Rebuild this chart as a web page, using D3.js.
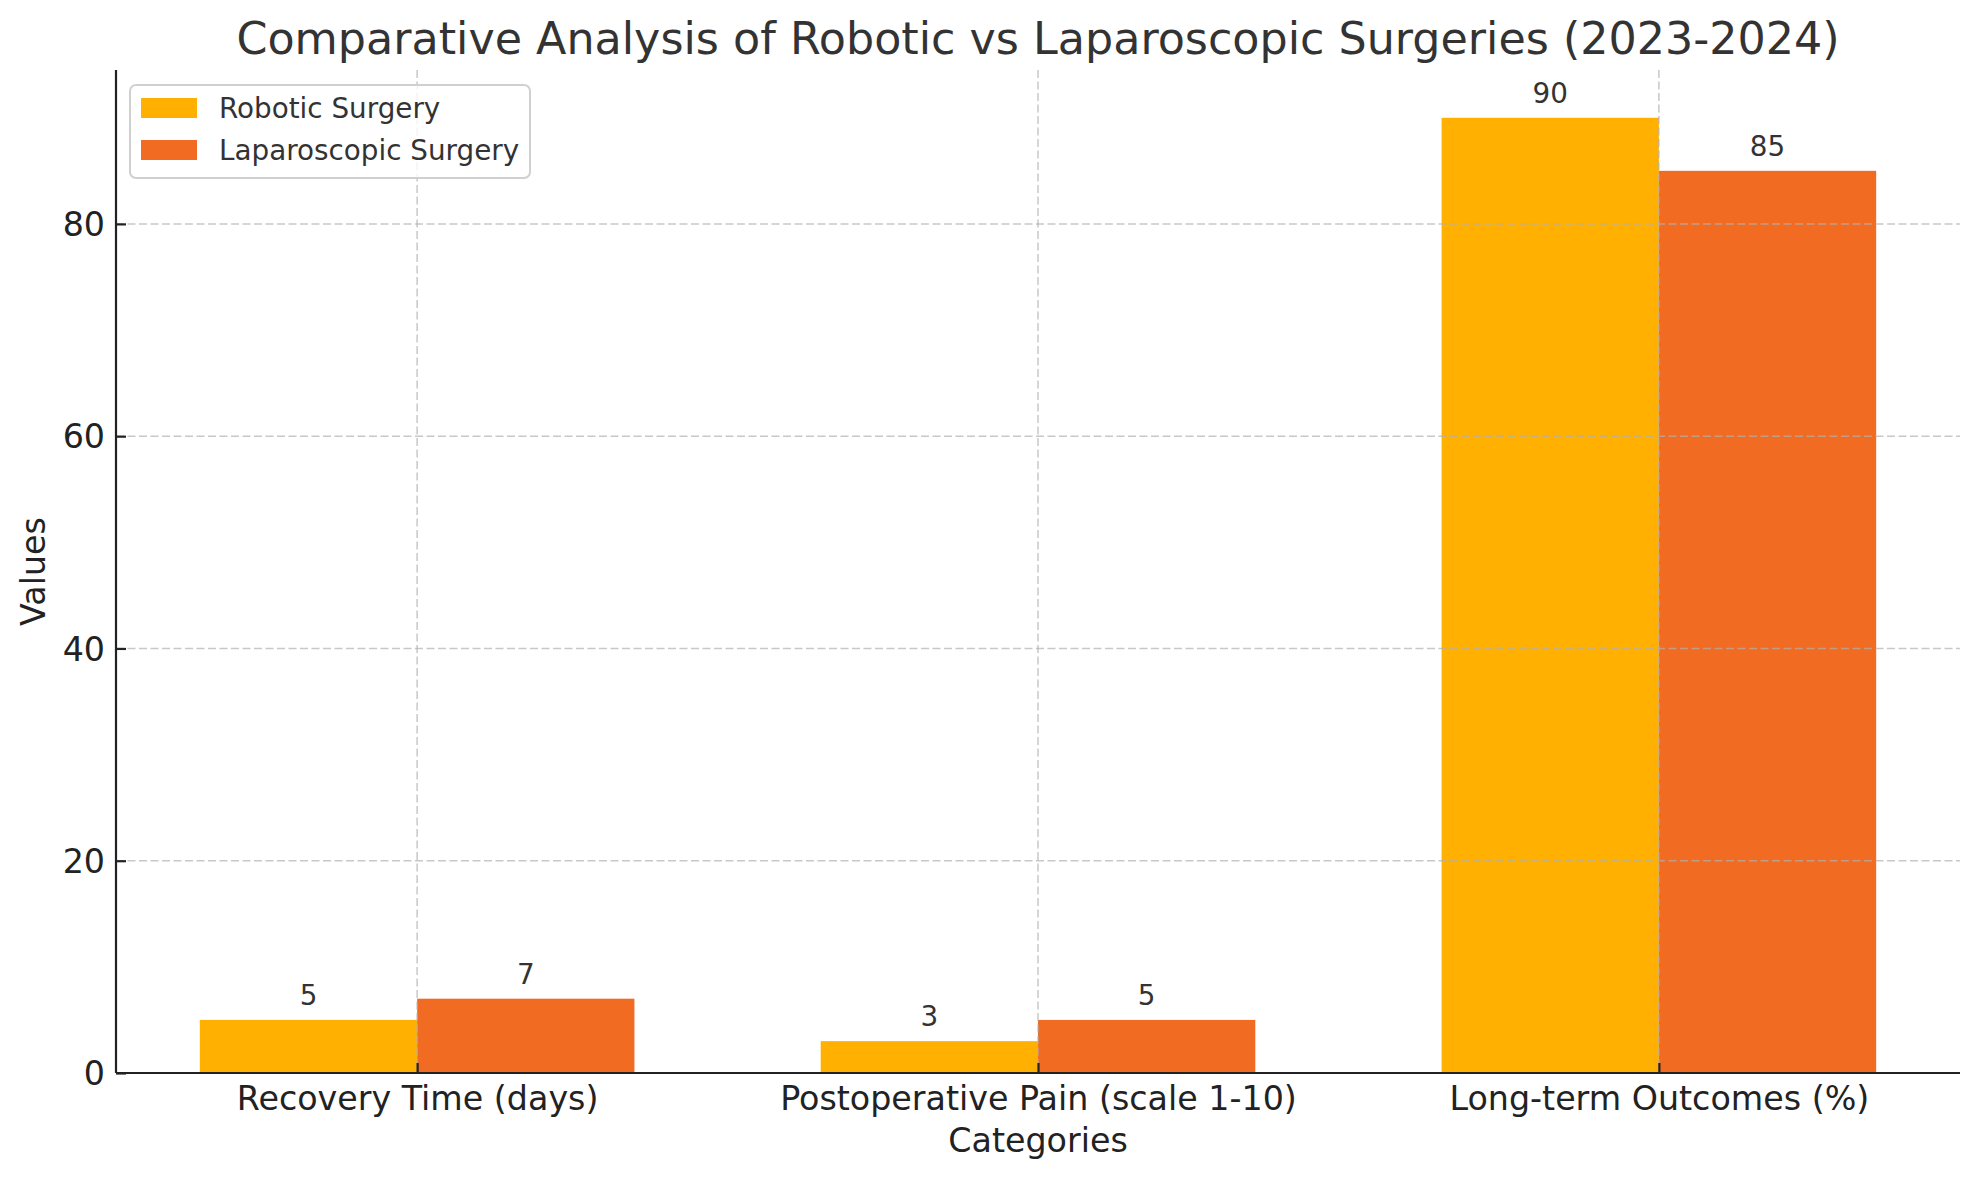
<!DOCTYPE html>
<html>
<head>
<meta charset="utf-8">
<script src="https://cdn.jsdelivr.net/npm/d3@7"></script>
<style>
  html, body { margin: 0; padding: 0; background: #fff; }
  svg { display: block; font-family: "DejaVu Sans", sans-serif; }
</style>
</head>
<body>
<div id="container"></div>
<script>
// data
const categories = ['Recovery Time (days)', 'Postoperative Pain (scale 1-10)', 'Long-term Outcomes (%)'];
const seriesNames = ['Robotic Surgery', 'Laparoscopic Surgery'];
const roboticValues = [5, 3, 90];
const laparoscopicValues = [7, 5, 85];
const yTicks = [0, 20, 40, 60, 80];
const colors = ['#FFB000', '#F26B22'];

const width = 1979;
const height = 1180;
const margin = { top: 70, right: 19, bottom: 107, left: 116 };
const barWidth = 0.35;

const svg = d3.select('#container')
    .append('svg')
    .attr('width', width)
    .attr('height', height);

const x = d3.scaleLinear()
    .domain([-0.485, 2.485])
    .range([margin.left, width - margin.right]);

const y = d3.scaleLinear()
    .domain([0, 94.5])
    .range([height - margin.bottom, margin.top]);

const series = [roboticValues, laparoscopicValues];

// bars
series.forEach((values, s) => {
    svg.append('g')
        .selectAll('rect')
        .data(values)
        .enter()
        .append('rect')
        .attr('x', (d, i) => x(i - barWidth + s * barWidth))
        .attr('y', d => y(d))
        .attr('width', x(barWidth) - x(0))
        .attr('height', d => y(0) - y(d))
        .attr('fill', colors[s]);
});

// grid (drawn over bars)
const grid = svg.append('g')
    .attr('stroke', '#b0b0b0')
    .attr('stroke-opacity', 0.7)
    .attr('stroke-width', 1.5)
    .attr('stroke-dasharray', '8,3.5');

grid.selectAll('.hgrid')
    .data(yTicks)
    .enter()
    .append('line')
    .attr('x1', margin.left)
    .attr('x2', width - margin.right)
    .attr('y1', d => y(d))
    .attr('y2', d => y(d));

grid.selectAll('.vgrid')
    .data(categories)
    .enter()
    .append('line')
    .attr('x1', (d, i) => x(i))
    .attr('x2', (d, i) => x(i))
    .attr('y1', margin.top)
    .attr('y2', height - margin.bottom);

// value labels
series.forEach((values, s) => {
    svg.append('g')
        .selectAll('text')
        .data(values)
        .enter()
        .append('text')
        .attr('x', (d, i) => x(i - barWidth / 2 + s * barWidth))
        .attr('y', d => y(d) - 15)
        .attr('text-anchor', 'middle')
        .attr('font-size', 27.8)
        .attr('fill', '#333')
        .text(d => d);
});

// axes
const xAxis = svg.append('g')
    .attr('transform', `translate(0,${height - margin.bottom})`)
    .call(d3.axisBottom(x)
        .tickValues([0, 1, 2])
        .tickFormat(i => categories[i])
        .tickSizeInner(-10)
        .tickSizeOuter(0)
        .tickPadding(13));

const yAxis = svg.append('g')
    .attr('transform', `translate(${margin.left},0)`)
    .call(d3.axisLeft(y)
        .tickValues(yTicks)
        .tickSizeInner(-10)
        .tickSizeOuter(0)
        .tickPadding(11));

[xAxis, yAxis].forEach(a => {
    a.select('.domain').attr('stroke', '#222').attr('stroke-width', 2.2);
    a.selectAll('.tick line').attr('stroke', '#222').attr('stroke-width', 2.2);
    a.selectAll('.tick text')
        .attr('font-size', 33.3)
        .attr('fill', '#222')
        .attr('font-family', '"DejaVu Sans", sans-serif');
});
yAxis.selectAll('.tick text').attr('dy', '0.35em');
xAxis.select('.domain').attr('d', `M${margin.left},0H${width - margin.right}`);
yAxis.select('.domain').attr('d', `M0,${margin.top}V${height - margin.bottom}`);

// axis labels
svg.append('text')
    .attr('x', (margin.left + width - margin.right) / 2)
    .attr('y', 1152)
    .attr('text-anchor', 'middle')
    .attr('font-size', 33.3)
    .attr('fill', '#222')
    .text('Categories');

svg.append('text')
    .attr('transform', `translate(45,${(margin.top + height - margin.bottom) / 2}) rotate(-90)`)
    .attr('text-anchor', 'middle')
    .attr('font-size', 33.3)
    .attr('fill', '#222')
    .text('Values');

// title
svg.append('text')
    .attr('x', (margin.left + width - margin.right) / 2)
    .attr('y', 54)
    .attr('text-anchor', 'middle')
    .attr('font-size', 44.4)
    .attr('fill', '#333')
    .text('Comparative Analysis of Robotic vs Laparoscopic Surgeries (2023-2024)');

// legend
const legend = svg.append('g');
legend.append('rect')
    .attr('x', 130)
    .attr('y', 85)
    .attr('width', 400)
    .attr('height', 93)
    .attr('rx', 6)
    .attr('fill', '#fff')
    .attr('fill-opacity', 0.8)
    .attr('stroke', '#d0d0d0')
    .attr('stroke-width', 2);

const items = legend.selectAll('.item')
    .data(seriesNames)
    .enter()
    .append('g')
    .attr('transform', (d, i) => `translate(141,${98 + i * 42})`);

items.append('rect')
    .attr('width', 56)
    .attr('height', 20)
    .attr('fill', (d, i) => colors[i]);

items.append('text')
    .attr('x', 78)
    .attr('y', 20)
    .attr('font-size', 27.8)
    .attr('fill', '#333')
    .text(d => d);
</script>
</body>
</html>
